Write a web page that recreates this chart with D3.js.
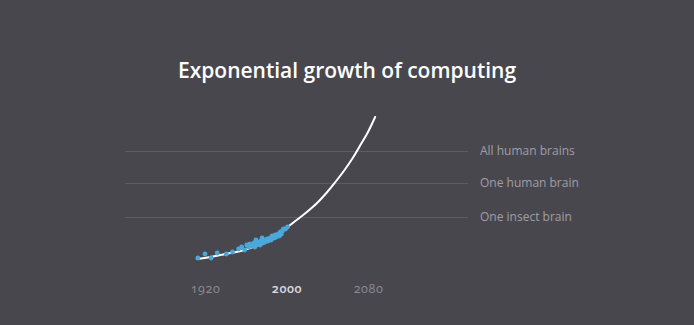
<!DOCTYPE html>
<html>
<head>
<meta charset="utf-8">
<script src="https://cdn.jsdelivr.net/npm/d3@7"></script>
<style>
  html, body { margin: 0; padding: 0; background: #49474e; }
  svg { display: block; }
</style>
</head>
<body>
<svg width="694" height="325"></svg>
<script>
// year ticks along the bottom, 2000 is highlighted
var tickYears = [1920, 2000, 2080];

// reference levels of computing power
var levelNames = ["All human brains", "One human brain", "One insect brain"],
    levelValues = [111, 79, 45];

// trend line (year, computing power index)
var trendYears  = [1912, 1925, 1940, 1955, 1970, 1985, 1995, 2001, 2010, 2020, 2030, 2040, 2048, 2057, 2065, 2072, 2080, 2087],
    trendValues = [3, 5, 8, 11, 16, 23, 30, 35, 42, 50, 59, 70, 80, 92, 104, 116, 130, 145];

// measured machines
var machineYears  = [1913, 1920, 1926, 1932, 1941, 1947, 1953, 1956, 1959, 1961,
                     1963, 1964, 1966, 1968, 1969, 1970, 1971, 1972, 1974, 1975,
                     1976, 1977, 1978, 1979, 1981, 1982, 1984, 1985, 1986, 1988,
                     1989, 1990, 1992, 1993, 1994, 1995, 1996, 1997, 1999, 2001],
    machineValues = [4, 8, 4, 9, 8, 10, 13, 15, 12, 17,
                     15, 18, 16, 19, 15, 22, 18, 20, 17, 21,
                     24, 19, 22, 20, 23, 21, 24, 22, 26, 24,
                     27, 25, 28, 26, 30, 28, 31, 33, 33, 35];

var svg = d3.select("svg");

var x = d3.scaleLinear().domain([1920, 2080]).range([205, 368]),
    y = d3.scaleLinear().domain([0, 150]).range([262, 112]);

// title
svg.append("text")
    .attr("x", 347)
    .attr("y", 78)
    .attr("text-anchor", "middle")
    .style("font-family", "'Open Sans', sans-serif")
    .style("font-weight", 600)
    .style("font-size", "21px")
    .style("fill", "#ffffff")
    .text("Exponential growth of computing");

// horizontal level lines with their names on the right
var levels = svg.append("g")
    .selectAll("g")
    .data(levelValues)
    .enter().append("g");

levels.append("line")
    .attr("x1", 125)
    .attr("x2", 468)
    .attr("y1", function(d) { return y(d) + 0.5; })
    .attr("y2", function(d) { return y(d) + 0.5; })
    .style("stroke", "#5e5c63")
    .style("stroke-width", 1);

levels.append("text")
    .attr("x", 480)
    .attr("y", function(d) { return y(d); })
    .attr("dy", "0.36em")
    .style("font-family", "'Open Sans', sans-serif")
    .style("font-size", "12px")
    .style("fill", "#a09ea5")
    .text(function(d, i) { return levelNames[i]; });

// trend curve
var trend = trendYears.map(function(d, i) { return [d, trendValues[i]]; });

svg.append("path")
    .datum(trend)
    .attr("d", d3.line()
        .x(function(d) { return x(d[0]); })
        .y(function(d) { return y(d[1]); })
        .curve(d3.curveCatmullRom))
    .style("fill", "none")
    .style("stroke", "#ffffff")
    .style("stroke-width", 2)
    .style("stroke-linecap", "round");

// machine dots on top of the curve
svg.append("g")
    .selectAll("circle")
    .data(machineYears)
    .enter().append("circle")
    .attr("cx", function(d) { return x(d); })
    .attr("cy", function(d, i) { return y(machineValues[i]); })
    .attr("r", 2.4)
    .style("fill", "#4aa9da");

// year axis, only the labels are shown
var axis = svg.append("g")
    .attr("transform", "translate(0,284)")
    .call(d3.axisBottom(x).tickValues(tickYears).tickSize(0).tickPadding(0).tickFormat(d3.format("d")));

axis.select(".domain").remove();

axis.selectAll(".tick text")
    .attr("dy", "0.71em")
    .style("font-family", "'Open Sans', sans-serif")
    .style("font-size", "12.5px")
    .style("letter-spacing", "0.6px")
    .style("font-variant-numeric", "oldstyle-nums")
    .style("font-weight", function(d) { return d === 2000 ? 600 : 400; })
    .style("fill", function(d) { return d === 2000 ? "#dcdbe0" : "#8c8a91"; });
</script>
</body>
</html>
